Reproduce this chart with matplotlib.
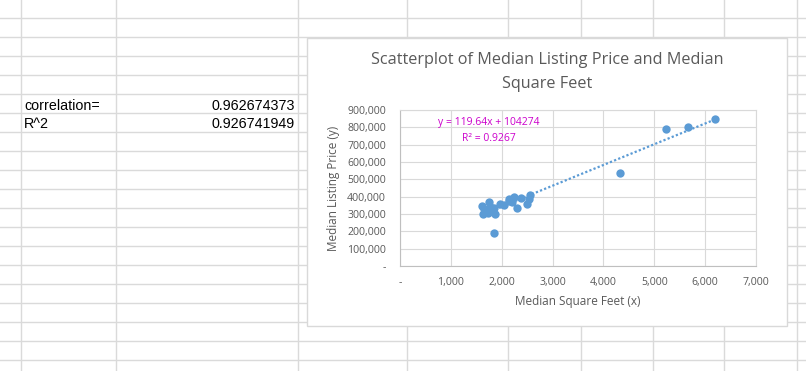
import matplotlib.pyplot as plt
from matplotlib.patches import Rectangle

# values
sqft = [1620, 1625, 1655, 1700, 1740, 1755, 1760, 1785, 1800, 1850, 1870, 1848,
        1970, 2040, 2140, 2150, 2210, 2245, 2295, 2380, 2500, 2540, 2560,
        4330, 5240, 5660, 6200]
price = [345000, 300000, 330000, 320000, 305000, 368000, 340000, 320000, 335000,
         335000, 298000, 190000, 360000, 352000, 375000, 385000, 368000, 400000,
         335000, 395000, 358000, 388000, 412000, 535000, 790000, 800000, 846000]

# trendline from the chart's equation
slope = 119.64
intercept = 104274
r2_text = "0.9267"

# cells on the sheet
cell_labels = ["correlation=", "R^2"]
cell_values = ["0.962674373", "0.926741949"]

x_ticks = list(range(0, 7001, 1000))
y_ticks = list(range(0, 900001, 100000))

W, H = 806, 371
fig = plt.figure(figsize=(W / 100, H / 100), dpi=100)

# spreadsheet background
bg = fig.add_axes([0, 0, 1, 1])
bg.set_xlim(0, W)
bg.set_ylim(H, 0)
bg.axis("off")
grid_col = "#DADADA"
for cx in [21, 116, 298, 407, 508, 581, 653, 724, 797]:
    bg.axvline(cx, color=grid_col, lw=1)
row = 18.3
while row < H:
    bg.axhline(row, color=grid_col, lw=1)
    row += 19
bg.add_patch(Rectangle((307, 38), 480, 288, facecolor="white",
                       edgecolor="#D9D9D9", lw=1, zorder=3))

for i, (lab, val) in enumerate(zip(cell_labels, cell_values)):
    yy = 105.5 + 19 * i
    bg.text(24, yy, lab, fontsize=10.3, family="Liberation Sans",
            va="center", ha="left", color="black", zorder=4)
    bg.text(295, yy, val, fontsize=10.3, family="Liberation Sans",
            va="center", ha="right", color="black", zorder=4)

# chart
plt.rcParams["font.family"] = "Open Sans"
txt = "#595959"
blue = "#5B9BD5"

ax = fig.add_axes([400 / W, 1 - 266 / H, 356 / W, 156 / H], zorder=5)
ax.scatter(sqft, price, s=36, color=blue, zorder=3, linewidths=0)
xs = [min(sqft), max(sqft)]
ax.plot(xs, [slope * v + intercept for v in xs], color=blue, lw=1.6,
        linestyle=(0, (1, 1)), zorder=2)

ax.set_xlim(0, 7000)
ax.set_ylim(0, 900000)
ax.set_xticks(x_ticks)
ax.set_yticks(y_ticks)
ax.set_xticklabels(["-" if v == 0 else f"{v:,}" for v in x_ticks])
ax.set_yticklabels(["-" if v == 0 else f"{v:,}" for v in y_ticks])
ax.tick_params(length=0, labelsize=7.6, colors=txt)
ax.tick_params(axis="y", pad=10)
ax.tick_params(axis="x", pad=8)
ax.grid(True, color="#D9D9D9", lw=0.8)
ax.set_axisbelow(True)
for side in ["left", "bottom"]:
    ax.spines[side].set_color("#BFBFBF")
for side in ["top", "right"]:
    ax.spines[side].set_color("#D9D9D9")

ax.set_xlabel("Median Square Feet (x)", fontsize=8.5, color=txt, labelpad=5)
ax.set_ylabel("Median Listing Price (y)", fontsize=8.5, color=txt, labelpad=5)

fig.text(489 / W, 1 - 123 / H, f"y = {slope}x + {intercept}", fontsize=7.5,
         color="#CC00CC", ha="center", va="center", zorder=6)
fig.text(489 / W, 1 - 138 / H, f"R² = {r2_text}", fontsize=7.5,
         color="#CC00CC", ha="center", va="center", zorder=6)

fig.text(547 / W, 1 - 72 / H, "Scatterplot of Median Listing Price and Median\nSquare Feet",
         fontsize=11.7, color=txt, ha="center", va="center", linespacing=1.62, zorder=6)

fig.savefig("out.png", dpi=100)
